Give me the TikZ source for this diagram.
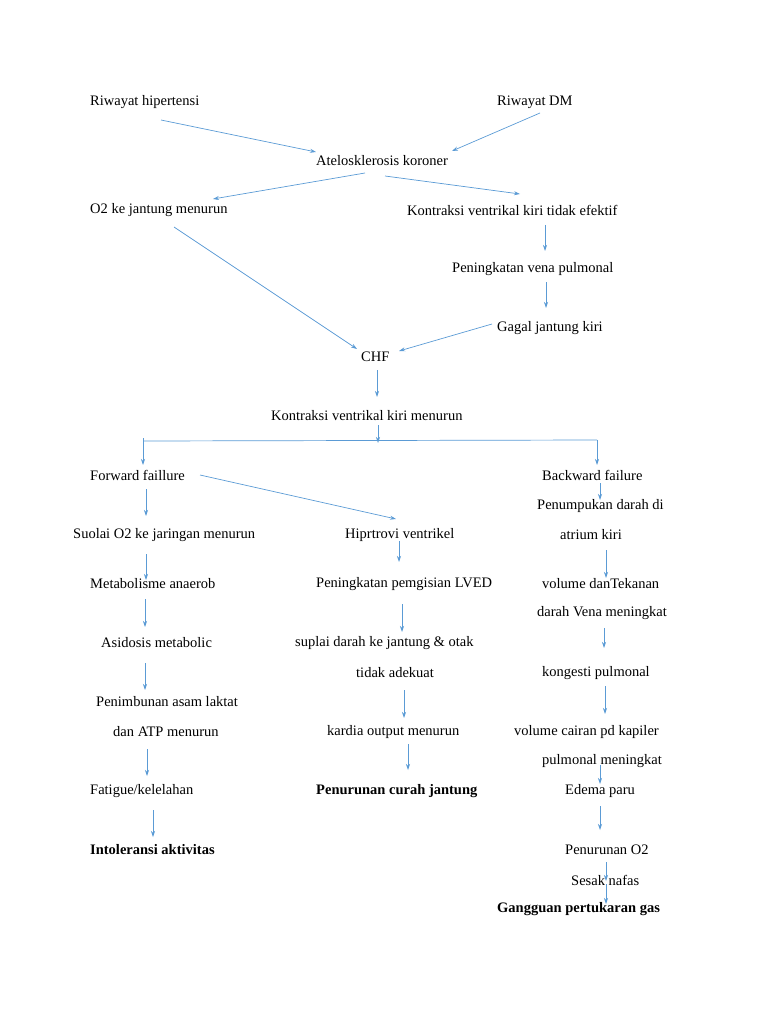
\documentclass[tikz,border=0pt]{standalone}
\usepackage{fontspec}
\setmainfont{Liberation Serif}
\usetikzlibrary{arrows.meta}
\begin{document}
\begin{tikzpicture}[x=1pt,y=-1pt,
 t/.style={anchor=west,inner sep=0pt,font=\fontsize{14.5}{16}\selectfont},
 b/.style={t,font=\fontsize{14.5}{16}\selectfont\bfseries},
 ar/.style={draw={rgb,255:red,91;green,155;blue,213},-{Stealth[length=6pt,width=4pt]},line width=0.7pt},
 ln/.style={draw={rgb,255:red,91;green,155;blue,213},line width=0.7pt}]
\useasboundingbox (0,0) rectangle (768,1024);
\node[t] (r1) at (90,102) {Riwayat hipertensi};
\node[t] (r2) at (497,102) {Riwayat DM};
\node[t] (ate) at (316,161) {Atelosklerosis koroner};
\node[t] (o2) at (90,210) {O2 ke jantung menurun};
\node[t] (kv) at (407,210) {Kontraksi ventrikal kiri tidak efektif};
\node[t] (pv) at (452,269) {Peningkatan vena pulmonal};
\node[t] (gj) at (497,328) {Gagal jantung kiri};
\node[t] (chf) at (361,357) {CHF};
\node[t] (kvm) at (271,416) {Kontraksi ventrikal kiri menurun};
\node[t] (ff) at (90,475) {Forward faillure};
\node[t] (bf) at (542,475) {Backward failure};
\node[t] (pd1) at (537,506) {Penumpukan darah di};
\node[t] (pd2) at (560,535) {atrium kiri};
\node[t] (so) at (73,535) {Suolai O2 ke jaringan menurun};
\node[t] (hv) at (345,535) {Hiprtrovi ventrikel};
\node[t] (ma) at (90,584) {Metabolisme anaerob};
\node[t] (pl) at (316,584) {Peningkatan pemgisian LVED};
\node[t] (vd1) at (542,584) {volume danTekanan};
\node[t] (vd2) at (537,613) {darah Vena meningkat};
\node[t] (am) at (101,643) {Asidosis metabolic};
\node[t] (sd1) at (295,643) {suplai darah ke jantung \& otak};
\node[t] (sd2) at (356,673) {tidak adekuat};
\node[t] (kp) at (542,673) {kongesti pulmonal};
\node[t] (pa1) at (96,702) {Penimbunan asam laktat};
\node[t] (pa2) at (113,732) {dan ATP menurun};
\node[t] (ko) at (327,732) {kardia output menurun};
\node[t] (vc1) at (514,732) {volume cairan pd kapiler};
\node[t] (vc2) at (542,761) {pulmonal meningkat};
\node[t] (fk) at (90,791) {Fatigue/kelelahan};
\node[b] (pcj) at (316,791) {Penurunan curah jantung};
\node[t] (ep) at (565,791) {Edema paru};
\node[b] (ia) at (90,850) {Intoleransi aktivitas};
\node[t] (po) at (565,850) {Penurunan O2};
\node[t] (sn) at (571,880) {Sesak nafas};
\node[b] (gp) at (497,909) {Gangguan pertukaran gas};
% connectors
\draw[ar] (161,120) -- (316,152);
\draw[ar] (540,113) -- (452,151);
\draw[ar] (365,173) -- (213,199);
\draw[ar] (385,176) -- (520,194);
\draw[ar] (545,225) -- (545,251);
\draw[ar] (546,282) -- (546,308);
\draw[ar] (492,324) -- (399,351);
\draw[ar] (174,227) -- (357,349);
\draw[ar] (377,370) -- (377,397);
\draw[ln] (143,441) -- (597,440);
\draw[ar] (143,438) -- (143,465);
\draw[ar] (378,425) -- (378,443);
\draw[ar] (597,440) -- (597,465);
\draw[ar] (200,475) -- (396,519);
\draw[ar] (600,483) -- (600,500);
\draw[ar] (146,489) -- (146,516);
\draw[ar] (399,541) -- (399,562);
\draw[ar] (146,554) -- (146,580);
\draw[ar] (606,550) -- (606,578);
\draw[ar] (145,599) -- (145,627);
\draw[ar] (402,604) -- (402,632);
\draw[ar] (604,628) -- (604,648);
\draw[ar] (145,663) -- (145,690);
\draw[ar] (605,686) -- (605,714);
\draw[ar] (404,690) -- (404,718);
\draw[ar] (147,749) -- (147,776);
\draw[ar] (408,744) -- (408,770);
\draw[ar] (600,765) -- (600,784);
\draw[ar] (153,810) -- (153,837);
\draw[ar] (600,806) -- (600,830);
\draw[ar] (606,862) -- (606,881);
\draw[ar] (606,884) -- (606,904);
\end{tikzpicture}
\end{document}
